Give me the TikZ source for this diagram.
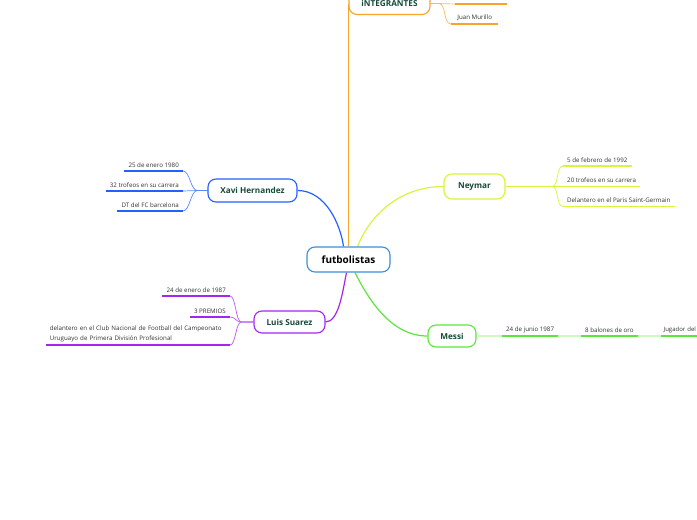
\documentclass[tikz,border=0pt]{standalone}
\usepackage{fontspec}
\setmainfont{Open Sans}
\usetikzlibrary{backgrounds}
\definecolor{colCen}{RGB}{61,143,217}
\definecolor{colOra}{RGB}{246,165,42}
\definecolor{colXav}{RGB}{37,96,255}
\definecolor{colNey}{RGB}{214,245,60}
\definecolor{colMes}{RGB}{90,230,58}
\definecolor{colLui}{RGB}{165,38,240}
\definecolor{colTtl}{RGB}{21,74,57}
\definecolor{colLf}{RGB}{50,50,50}
\begin{document}
\begin{tikzpicture}[x=1pt,y=-1pt,
  topic/.style={draw, rounded corners=8pt, fill=white, line width=1.1pt,
    font=\fontsize{8.2}{10}\selectfont\bfseries, text=colTtl, inner sep=0pt, align=center},
  leaf/.style={inner xsep=4pt, inner ysep=3.3pt, font=\fontsize{6.2}{9.5}\selectfont, text=colLf},
  uline/.style={line width=1.5pt},
  twig/.style={line width=0.7pt},
  mainline/.style={line width=1.2pt}]
\useasboundingbox (0,0) rectangle (697,520);
\clip (0,0) rectangle (697,520);

% topics
\node[topic, draw=colCen, minimum width=83pt, minimum height=25pt,
  font=\fontsize{10}{12}\selectfont\bfseries, text=black] (c) at (348.5,259.5) {futbolistas};
\node[topic, draw=colOra, minimum width=81pt, minimum height=22pt] (int) at (389.5,3.5) {iNTEGRANTES};
\node[topic, draw=colXav, minimum width=89pt, minimum height=23pt] (xavi) at (252.5,190.5) {Xavi Hernandez};
\node[topic, draw=colNey, minimum width=61pt, minimum height=25pt] (ney) at (474.5,186.5) {Neymar};
\node[topic, draw=colMes, minimum width=48pt, minimum height=22pt] (messi) at (452,336) {Messi};
\node[topic, draw=colLui, minimum width=71pt, minimum height=22pt] (luis) at (289.5,322) {Luis Suarez};

% leaves: Xavi
\node[leaf, anchor=south east] (x1) at (183,171) {25 de enero 1980};
\node[leaf, anchor=south east] (x2) at (183,191) {32 trofeos en su carrera};
\node[leaf, anchor=south east] (x3) at (183,211) {DT del FC barcelona};
% leaves: Luis
\node[leaf, anchor=south east] (l1) at (230,296) {24 de enero de 1987};
\node[leaf, anchor=south east] (l2) at (230,317) {3 PREMIOS};
\node[leaf, anchor=south east, text width=176pt, align=left] (l3) at (230,345)
  {delantero en el Club Nacional de Football del Campeonato\\Uruguayo de Primera División Profesional};
% leaves: Neymar
\node[leaf, anchor=south west] (n1) at (563,166) {5 de febrero de 1992};
\node[leaf, anchor=south west] (n2) at (563,186.5) {20 trofeos en su carrera};
\node[leaf, anchor=south west] (n3) at (563,206.5) {Delantero en el Paris Saint-Germain};
\coordinate (nb) at (552,186.5);
% leaves: Messi
\node[leaf, anchor=south west] (m1) at (502,336) {24 de junio 1987};
\node[leaf, anchor=south west] (m2) at (581,336) {8 balones de oro};
\node[leaf, anchor=south west, inner xsep=2.5pt, text width=52pt, align=left,
  font=\fontsize{6}{9}\selectfont] (m3) at (661,336) {Jugador del};
% leaves: INTEGRANTES
\node[leaf, anchor=south west, minimum width=52pt, minimum height=8pt] (i1) at (455,4) {};
\node[leaf, anchor=south west, minimum width=47pt] (i2) at (451,24) {Juan Murillo};

\begin{pgfonlayer}{background}
  % main branches
  \draw[mainline, colOra] (c.north -| int.west) -- (int.west);
  \draw[mainline, colXav] ([xshift=-5pt]c.north) .. controls +(-3,-22) and +(28,0) .. (xavi.east);
  \draw[mainline, colNey] ([xshift=9pt]c.north) .. controls +(12,-30) and +(-45,0) .. (ney.west);
  \draw[mainline, colLui] ([xshift=-2pt]c.south) .. controls +(-4,20) and +(13,0) .. (luis.east);
  \draw[mainline, colMes] ([xshift=6.5pt]c.south) .. controls +(15,30) and +(-35,0) .. (messi.west);

  % Xavi twigs
  \foreach \n in {x1,x2,x3}{
    \draw[twig, colXav!75] (xavi.west) -- +(-10,0) .. controls +(-7,0) and +(7,0) .. (\n.south east);
    \draw[uline, colXav] (\n.south west) -- (\n.south east);
  }
  % Luis twigs
  \foreach \n in {l1,l2,l3}{
    \draw[twig, colLui!75] (luis.west) -- +(-12,0) .. controls +(-6,0) and +(6,0) .. (\n.south east);
    \draw[uline, colLui] (\n.south west) -- (\n.south east);
  }
  % Neymar twigs
  \draw[twig, colNey] (ney.east) -- (nb);
  \draw[uline, colNey] ([xshift=26pt]ney.east) -- ([xshift=35pt]ney.east);
  \foreach \n in {n1,n2,n3}{
    \draw[twig, colNey] (nb) .. controls +(7,0) and +(-7,0) .. (\n.south west);
    \draw[uline, colNey] (\n.south west) -- (\n.south east);
  }
  % Messi chain
  \draw[uline, colMes!30] (messi.east) -- (m1.south west);
  \draw[uline, colMes!30] (m1.south east) -- (m2.south west);
  \draw[uline, colMes!30] (m2.south east) -- (m3.south west);
  \foreach \n in {m1,m2,m3}{
    \draw[uline, colMes] (\n.south west) -- (\n.south east);
  }
  % INTEGRANTES twigs
  \foreach \n in {i1,i2}{
    \draw[twig, colOra!75] (int.east) -- +(8,0) .. controls +(8,0) and +(-8,0) .. (\n.south west);
    \draw[uline, colOra] (\n.south west) -- (\n.south east);
  }
\end{pgfonlayer}
\end{tikzpicture}
\end{document}
